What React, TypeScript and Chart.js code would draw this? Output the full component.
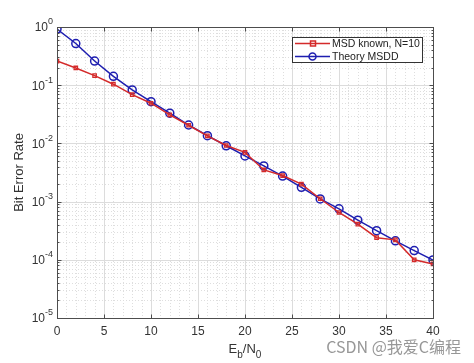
import React, { useEffect, useRef } from "react";
import { Chart, registerables } from "chart.js";

Chart.register(...registerables);

const ebN0 = [0, 2, 4, 6, 8, 10, 12, 14, 16, 18, 20, 22, 24, 26, 28, 30, 32, 34, 36, 38, 40];
const msdKnown = [0.26, 0.198, 0.146, 0.104, 0.069, 0.049, 0.031, 0.0205, 0.0135, 0.0092, 0.007, 0.0035, 0.0028, 0.002, 0.00112, 0.00065, 0.00041, 0.00024, 0.00022, 0.0001, 0.000085];
const theoryMsdd = [0.92, 0.52, 0.26, 0.142, 0.083, 0.052, 0.033, 0.0207, 0.0136, 0.0091, 0.0061, 0.0041, 0.00275, 0.00176, 0.00111, 0.00075, 0.00048, 0.000316, 0.000212, 0.000144, 0.0000993];
const seriesLabels = ["MSD known, N=10", "Theory MSDD"];
const xTicks = [0, 5, 10, 15, 20, 25, 30, 35, 40];
const yTickExponents = [0, -1, -2, -3, -4, -5];
const yTitle = "Bit Error Rate";
const watermark = "CSDN @我爱C编程";

const RED = "#d42a2a";
const BLUE = "#1e1eb0";
const FONT = "'Liberation Sans', Arial, sans-serif";

const decorPlugin = {
  id: "matlabDecor",
  beforeDatasetsDraw(chart: any) {
    const { ctx, chartArea: a, scales } = chart;
    const xs = scales.x, ys = scales.y;
    ctx.save();
    ctx.fillStyle = "#fff";
    ctx.fillRect(a.left, a.top, a.right - a.left, a.bottom - a.top);
    // minor grid
    ctx.strokeStyle = "#dedede";
    ctx.lineWidth = 1;
    ctx.setLineDash([1, 2]);
    for (let v = 1; v < 40; v++) {
      if (v % 5 === 0) continue;
      const px = Math.round(xs.getPixelForValue(v)) + 0.5;
      ctx.beginPath(); ctx.moveTo(px, a.top); ctx.lineTo(px, a.bottom); ctx.stroke();
    }
    for (let e = -5; e < 0; e++) {
      for (let m = 2; m <= 9; m++) {
        const py = Math.round(ys.getPixelForValue(m * Math.pow(10, e))) + 0.5;
        ctx.beginPath(); ctx.moveTo(a.left, py); ctx.lineTo(a.right, py); ctx.stroke();
      }
    }
    // major grid
    ctx.setLineDash([]);
    ctx.strokeStyle = "#dcdcdc";
    for (const v of xTicks) {
      const px = Math.round(xs.getPixelForValue(v)) + 0.5;
      ctx.beginPath(); ctx.moveTo(px, a.top); ctx.lineTo(px, a.bottom); ctx.stroke();
    }
    for (const e of yTickExponents) {
      const py = Math.round(ys.getPixelForValue(Math.pow(10, e))) + 0.5;
      ctx.beginPath(); ctx.moveTo(a.left, py); ctx.lineTo(a.right, py); ctx.stroke();
    }
    ctx.restore();
  },
  afterDraw(chart: any) {
    const { ctx, chartArea: a, scales } = chart;
    const xs = scales.x, ys = scales.y;
    ctx.save();
    const L = Math.round(a.left) + 0.5, R = Math.round(a.right) + 0.5;
    const T = Math.round(a.top) + 0.5, B = Math.round(a.bottom) + 0.5;
    ctx.strokeStyle = "#4d4d4d";
    ctx.lineWidth = 1;
    ctx.strokeRect(L, T, R - L, B - T);
    // ticks
    ctx.beginPath();
    for (const v of xTicks) {
      const px = Math.round(xs.getPixelForValue(v)) + 0.5;
      ctx.moveTo(px, B); ctx.lineTo(px, B - 4);
      ctx.moveTo(px, T); ctx.lineTo(px, T + 4);
    }
    for (const e of yTickExponents) {
      const py = Math.round(ys.getPixelForValue(Math.pow(10, e))) + 0.5;
      ctx.moveTo(L, py); ctx.lineTo(L + 4, py);
      ctx.moveTo(R, py); ctx.lineTo(R - 4, py);
    }
    for (let e = -5; e < 0; e++) {
      for (let m = 2; m <= 9; m++) {
        const py = Math.round(ys.getPixelForValue(m * Math.pow(10, e))) + 0.5;
        ctx.moveTo(L, py); ctx.lineTo(L + 2, py);
        ctx.moveTo(R, py); ctx.lineTo(R - 2, py);
      }
    }
    ctx.stroke();
    // x tick labels
    ctx.fillStyle = "#333";
    ctx.font = `12px ${FONT}`;
    ctx.textAlign = "center";
    ctx.textBaseline = "middle";
    for (const v of xTicks) {
      ctx.fillText(String(v), xs.getPixelForValue(v), a.bottom + 14);
    }
    // y tick labels with superscripts
    for (const e of yTickExponents) {
      const py = ys.getPixelForValue(Math.pow(10, e));
      const sup = e === 0 ? "0" : "-" + String(-e);
      ctx.font = `9px ${FONT}`;
      const sw = ctx.measureText(sup).width;
      ctx.font = `12px ${FONT}`;
      const bw = ctx.measureText("10").width;
      const right = a.left - 4;
      ctx.textAlign = "left";
      ctx.fillText("10", right - sw - bw, py + 1);
      ctx.font = `9px ${FONT}`;
      ctx.fillText(sup, right - sw, py - 5);
    }
    // x title E_b/N_0
    const parts: [string, boolean][] = [["E", false], ["b", true], ["/N", false], ["0", true]];
    let total = 0;
    for (const [t, sub] of parts) {
      ctx.font = sub ? `10px ${FONT}` : `13px ${FONT}`;
      total += ctx.measureText(t).width;
    }
    let cx = (a.left + a.right) / 2 - total / 2;
    for (const [t, sub] of parts) {
      ctx.font = sub ? `10px ${FONT}` : `13px ${FONT}`;
      ctx.fillText(t, cx, sub ? 355 : 349);
      cx += ctx.measureText(t).width;
    }
    // y title
    ctx.save();
    ctx.translate(19, (a.top + a.bottom) / 2);
    ctx.rotate(-Math.PI / 2);
    ctx.textAlign = "center";
    ctx.font = `13px ${FONT}`;
    ctx.fillText(yTitle, 0, 0);
    ctx.restore();
    // legend
    const lx = 292, ly = 37, lw = 130, lh = 25;
    ctx.fillStyle = "#fff";
    ctx.fillRect(lx, ly, lw, lh);
    ctx.strokeStyle = "#333";
    ctx.lineWidth = 1;
    ctx.strokeRect(lx + 0.5, ly + 0.5, lw, lh);
    const rows = [
      { label: seriesLabels[0], color: RED, marker: "rect", y: 43.5 },
      { label: seriesLabels[1], color: BLUE, marker: "circle", y: 56.5 },
    ];
    for (const r of rows) {
      ctx.strokeStyle = r.color;
      ctx.lineWidth = 1.5;
      ctx.beginPath(); ctx.moveTo(295, r.y); ctx.lineTo(330, r.y); ctx.stroke();
      ctx.beginPath();
      if (r.marker === "rect") ctx.rect(310.5, r.y - 2.5, 5, 5);
      else ctx.arc(312.5, r.y, 3.5, 0, Math.PI * 2);
      ctx.stroke();
      ctx.fillStyle = "#222";
      ctx.font = `10.5px ${FONT}`;
      ctx.textAlign = "left";
      ctx.textBaseline = "middle";
      ctx.fillText(r.label, 332, r.y + 0.5);
    }
    // watermark
    ctx.fillStyle = "rgba(140,140,140,0.9)";
    ctx.font = `16px 'Noto Sans CJK SC', ${FONT}`;
    ctx.textAlign = "right";
    ctx.textBaseline = "middle";
    ctx.fillText(watermark, 461, 347);
    ctx.restore();
  },
};

export default function App() {
  const ref = useRef<HTMLCanvasElement>(null);
  useEffect(() => {
    document.body.style.margin = "0";
    const canvas = ref.current!;
    const chart = new Chart(canvas, {
      type: "line",
      data: {
        datasets: [
          {
            label: seriesLabels[0],
            data: ebN0.map((x, i) => ({ x, y: msdKnown[i] })),
            borderColor: RED,
            backgroundColor: "rgba(0,0,0,0)",
            borderWidth: 1.5,
            pointStyle: "rect",
            pointRadius: 2.4,
            pointBorderWidth: 1.3,
            pointBorderColor: RED,
            pointBackgroundColor: "rgba(0,0,0,0)",
          },
          {
            label: seriesLabels[1],
            data: ebN0.map((x, i) => ({ x, y: theoryMsdd[i] })),
            borderColor: BLUE,
            backgroundColor: "rgba(0,0,0,0)",
            borderWidth: 1.5,
            pointStyle: "circle",
            pointRadius: 4,
            pointBorderWidth: 1.5,
            pointBorderColor: BLUE,
            pointBackgroundColor: "rgba(0,0,0,0)",
          },
        ],
      },
      options: {
        responsive: false,
        animation: false,
        devicePixelRatio: 1,
        layout: { padding: { top: 27, right: 41, left: 0, bottom: 0 } },
        plugins: { legend: { display: false }, tooltip: { enabled: false } },
        scales: {
          x: {
            type: "linear",
            min: 0,
            max: 40,
            ticks: { display: false },
            grid: { display: false },
            border: { display: false },
            afterFit: (s: any) => { s.height = 45; },
          },
          y: {
            type: "logarithmic",
            min: 1e-5,
            max: 1,
            ticks: { display: false },
            grid: { display: false },
            border: { display: false },
            afterFit: (s: any) => { s.width = 57; },
          },
        },
      },
      plugins: [decorPlugin],
    } as any);
    return () => chart.destroy();
  }, []);
  return (
    <div style={{ width: 474, height: 363, background: "#fff" }}>
      <canvas ref={ref} width={474} height={363} />
    </div>
  );
}
